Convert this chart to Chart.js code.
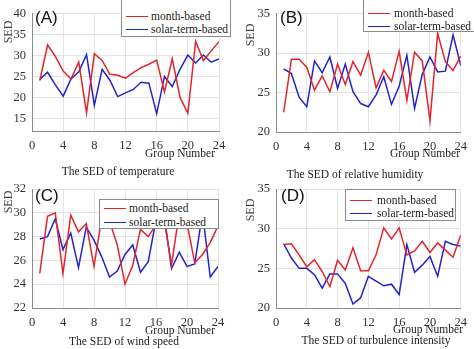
<!DOCTYPE html>
<html>
<head>
<meta charset="utf-8">
<script src="https://cdn.jsdelivr.net/npm/chart.js@4.4.1/dist/chart.umd.min.js"></script>
<style>
  body{ margin:0; background:#fff; width:474px; height:349px; overflow:hidden; position:relative; font-family:"Liberation Serif","DejaVu Serif",serif; color:#222 }
  canvas{ position:absolute }
  .txt{ position:absolute; white-space:nowrap; font-size:11.5px; color:#222 }
  .sed{ position:absolute; font-size:12px; color:#444; white-space:nowrap }
  .tag{ position:absolute; font-family:"Liberation Sans",Arial,sans-serif; font-size:17px; color:#111 }
  .legend{ position:absolute; background:#fff; border:1px solid #8a8a8a; box-sizing:border-box; font-size:11.5px; white-space:nowrap }
  .legend .row{ position:absolute; left:0; right:0; height:13px; line-height:13px }
  .legend .sw{ position:absolute; width:22px; height:0; top:6px }
  .legend .lb{ position:absolute; top:0; white-space:nowrap }
</style>
</head>
<body>

<canvas id="cA" width="237" height="175" style="left:0;top:0"></canvas>
<canvas id="cB" width="237" height="175" style="left:237px;top:0"></canvas>
<canvas id="cC" width="237" height="174" style="left:0;top:175px"></canvas>
<canvas id="cD" width="237" height="174" style="left:237px;top:175px"></canvas>

<script>
const groups = [1,2,3,4,5,6,7,8,9,10,11,12,13,14,15,16,17,18,19,20,21,22,23,24]
const xTicks = [0,4,8,12,16,20,24]

const tempMonth = [24.0,32.5,29.8,26.3,24.4,28.4,16.3,30.4,28.8,25.5,25.3,24.6,25.9,27.1,27.9,28.9,21.3,29.2,20.0,16.2,33.4,28.8,31.1,33.3]
const tempSolar = [24.3,26.0,23.0,20.3,24.4,26.1,30.2,18.1,26.7,24.1,20.2,21.1,21.9,23.6,23.4,16.1,25.0,22.6,26.7,30.1,28.2,30.1,28.4,29.2]
const tempTicks = [15,20,25,30,35,40]

const humMonth = [22.5,29.2,29.2,28.2,25.3,27.1,25.1,28.6,26.0,28.9,27.2,30.1,25.6,27.8,26.4,30.2,24.0,30.1,29.0,21.4,32.5,28.9,27.8,29.6]
const humSolar = [28.0,27.4,24.4,23.2,29.0,27.5,29.5,25.5,28.6,25.1,23.6,23.2,24.7,27.0,23.5,25.8,29.7,23.0,27.3,29.5,27.6,27.7,32.3,28.4]
const humTicks = [20,25,30,35]

const windMonth = [24.9,29.7,30.0,24.9,29.8,28.4,29.1,25.5,29.6,29.3,27.3,24.0,25.6,28.6,28.0,29.0,29.6,25.6,30.0,29.1,25.8,26.5,27.5,28.9]
const windSolar = [27.8,28.0,29.5,26.9,28.3,25.4,28.8,27.7,26.3,24.6,25.1,26.5,27.3,25.0,25.9,29.4,30.1,25.3,26.7,25.5,25.7,30.0,24.6,25.5]
const windTicks = [22,24,26,28,30,32]

const turbMonth = [28.0,28.1,26.7,25.2,26.1,24.6,22.7,26.0,24.8,27.6,24.7,24.7,26.7,30.1,28.7,30.1,26.7,27.2,28.4,27.0,28.2,27.3,26.4,29.2]
const turbSolar = [28.1,26.3,25.0,25.0,24.2,22.5,24.3,24.3,23.1,20.5,21.3,24.0,23.4,22.8,23.0,21.7,28.0,24.5,25.4,26.5,24.0,28.4,28.0,27.8]
const turbTicks = [20,25,30,35]

const RED = "#e3242b"
const BLUE = "#2323cc"

function pts(vals){ return groups.map((g,i)=>({ x:g, y:vals[i] })) }

function makePanel(id, month, solar, yMin, yMax, yTicks, area){
  const cv = document.getElementById(id)
  const W = cv.width, H = cv.height
  return new Chart(cv,{
    type:"line",
    data:{
      datasets:[
        { label:"month-based", data:pts(month), borderColor:RED, borderWidth:1.5, pointRadius:0, tension:0 },
        { label:"solar-term-based", data:pts(solar), borderColor:BLUE, borderWidth:1.5, pointRadius:0, tension:0 }
      ]
    },
    options:{
      responsive:false,
      animation:false,
      devicePixelRatio:1,
      layout:{ padding:{ left:0, top:area.top, right:W-area.right, bottom:0 } },
      plugins:{ legend:{ display:false }, tooltip:{ enabled:false } },
      scales:{
        x:{
          type:"linear", min:0, max:24,
          afterBuildTicks:s=>{ s.ticks = xTicks.map(v=>({ value:v })) },
          afterFit:s=>{ s.height = H-area.bottom },
          grid:{ color:"#e4e4e4", drawTicks:false },
          border:{ color:"#8c8c8c", width:1 },
          ticks:{ padding:7, color:"#333", font:{ family:"Liberation Serif", size:12.5 }, maxRotation:0 }
        },
        y:{
          min:yMin, max:yMax,
          afterBuildTicks:s=>{ s.ticks = yTicks.map(v=>({ value:v })) },
          afterFit:s=>{ s.width = area.left },
          grid:{ color:"#e4e4e4", drawTicks:false },
          border:{ color:"#8c8c8c", width:1 },
          ticks:{ padding:6, color:"#333", font:{ family:"Liberation Serif", size:12.5 } }
        }
      }
    }
  })
}

makePanel("cA", tempMonth, tempSolar, 12, 40, tempTicks, { left:32, right:219, top:10, bottom:131 })
makePanel("cB", humMonth, humSolar, 20, 35, humTicks, { left:39, right:227, top:10, bottom:132 })
makePanel("cC", windMonth, windSolar, 22, 32, windTicks, { left:32, right:218, top:14, bottom:133 })
makePanel("cD", turbMonth, turbSolar, 20, 35, turbTicks, { left:39, right:227, top:14, bottom:133 })

// overlay texts and legends
function addText(cls, text, x, y, center){
  const d = document.createElement("div")
  d.className = cls
  d.textContent = text
  d.style.left = x+"px"
  d.style.top = y+"px"
  if (center) d.style.transform = "translate(-50%,-50%)"
  document.body.appendChild(d)
  return d
}
function addLegend(x, y, w, h, swX, txtX, row1, row2){
  const box = document.createElement("div")
  box.className = "legend"
  box.style.cssText = `left:${x}px;top:${y}px;width:${w}px;height:${h}px`
  ;[["month-based",RED,row1],["solar-term-based",BLUE,row2]].forEach(([lab,col,ry])=>{
    const r = document.createElement("div")
    r.className = "row"
    r.style.top = (ry-6)+"px"
    r.innerHTML = `<div class="sw" style="left:${swX}px;border-top:1.5px solid ${col}"></div><div class="lb" style="left:${txtX}px">${lab}</div>`
    box.appendChild(r)
  })
  document.body.appendChild(box)
}

addLegend(121, -1, 110, 38, 4, 29, 16, 29)
addLegend(363, -1, 112, 33, 4, 30, 13, 26)
addLegend(99, 199, 120, 30, 4, 29, 8, 22)
addLegend(345, 189, 111, 32, 4, 31, 10, 23)

addText("tag", "(A)", 35, 8)
addText("tag", "(B)", 280, 8)
addText("tag", "(C)", 35, 186)
addText("tag", "(D)", 281, 186)

const sedPos = [[8,32],[250,35],[8,202],[250,210]]
sedPos.forEach(([x,y])=>{
  const s = addText("sed", "SED", x, y)
  s.style.transform = "translate(-50%,-50%) rotate(-90deg)"
})

addText("txt", "Group Number", 180, 153, true)
addText("txt", "Group Number", 425, 153, true)
addText("txt", "Group Number", 180, 330, true)
addText("txt", "Group Number", 428, 329, true)

addText("txt", "The SED of temperature", 118, 171, true)
addText("txt", "The SED of relative humidity", 355, 174, true)
addText("txt", "The SED of wind speed", 124, 341, true)
addText("txt", "The SED of turbulence intensity", 376, 340, true)
</script>
</body>
</html>
